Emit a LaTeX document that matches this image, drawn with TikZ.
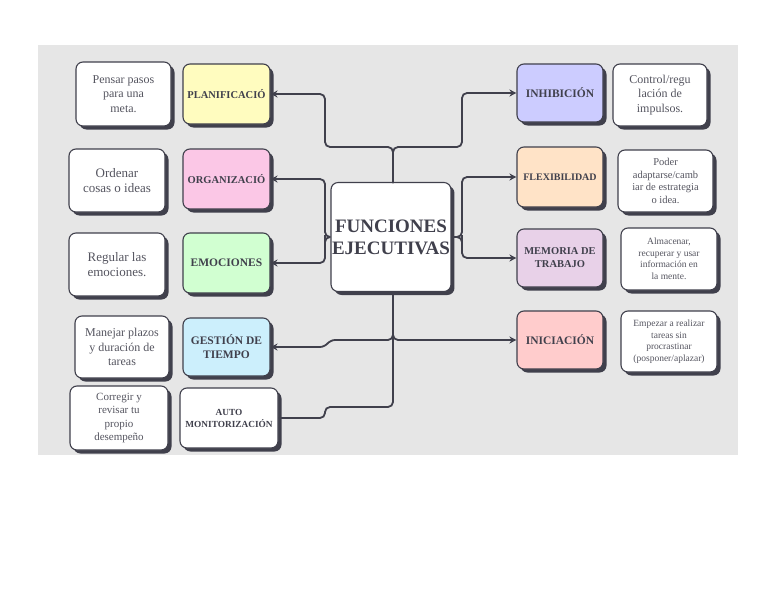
\documentclass[tikz,border=0pt]{standalone}
\usepackage{fontspec}
\setmainfont{Liberation Serif}
\usetikzlibrary{arrows.meta,shadows}
\definecolor{bgc}{HTML}{E6E6E6}
\definecolor{ink}{HTML}{40404C}
\definecolor{txt}{HTML}{555560}
\tikzset{
  card/.style={draw=ink,line width=1.1pt,rounded corners=7pt,align=center,inner sep=1pt,
    drop shadow={shadow xshift=3.5pt,shadow yshift=-3.5pt,fill=ink,opacity=1}},
  kbox/.style={card,font=\bfseries\fontsize{11.5}{14}\selectfont,text=ink},
  dbox/.style={card,fill=white,font=\fontsize{12}{14.5}\selectfont,text=txt},
  link/.style={draw=ink,line width=1.8pt,rounded corners=5pt},
  arr/.style={link,-{Stealth[length=7pt,width=7pt]}}
}
\begin{document}
\begin{tikzpicture}[x=1pt,y=-1pt]
\useasboundingbox (0,0) rectangle (768,594);
\fill[bgc] (38,45) rectangle (738,455);
% center
\node[card,fill=white,minimum width=110,minimum height=109,font=\bfseries\fontsize{19}{22}\selectfont,text=ink] (c) at (391,237) {FUNCIONES\\EJECUTIVAS};
% left keys
\node[kbox,fill=yellow!25!white,minimum width=87,minimum height=60,font=\bfseries\fontsize{10.5}{13}\selectfont] (pl) at (226.5,94) {PLANIFICACIÓ};
\node[kbox,fill=magenta!22!white,minimum width=87,minimum height=60,font=\bfseries\fontsize{10.5}{13}\selectfont] (or) at (226.5,179) {ORGANIZACIÓ};
\node[kbox,fill=green!18!white,minimum width=87,minimum height=60] (em) at (226.5,263) {EMOCIONES};
\node[kbox,fill=cyan!20!white,minimum width=87,minimum height=58] (ge) at (226.5,347) {GESTIÓN DE\\TIEMPO};
\node[kbox,fill=white,minimum width=98,minimum height=60,font=\bfseries\fontsize{9.3}{12}\selectfont] (au) at (229,418) {AUTO\\MONITORIZACIÓN};
% left descriptions
\node[dbox,minimum width=95,minimum height=64] (d1) at (123.5,94) {Pensar pasos\\para una\\meta.};
\node[dbox,minimum width=96,minimum height=63,font=\fontsize{13}{15.5}\selectfont] (d2) at (117,180.5) {Ordenar\\cosas o ideas};
\node[dbox,minimum width=96,minimum height=63,font=\fontsize{13}{15.5}\selectfont] (d3) at (117,264.5) {Regular las\\emociones.};
\node[dbox,minimum width=94,minimum height=62] (d4) at (122,347) {Manejar plazos\\y duración de\\tareas};
\node[dbox,minimum width=98,minimum height=64,font=\fontsize{11}{13.5}\selectfont] (d5) at (119,418) {Corregir y\\revisar tu\\propio\\desempeño};
% right keys
\node[kbox,fill=blue!20!white,minimum width=86,minimum height=58] (in) at (560,93) {INHIBICIÓN};
\node[kbox,fill=orange!22!white,minimum width=86,minimum height=60,font=\bfseries\fontsize{10}{12}\selectfont] (fl) at (560,177) {FLEXIBILIDAD};
\node[kbox,fill=violet!18!white,minimum width=86,minimum height=58,font=\bfseries\fontsize{10.5}{13}\selectfont] (me) at (560,258) {MEMORIA DE\\TRABAJO};
\node[kbox,fill=red!20!white,minimum width=86,minimum height=58] (ic) at (560,340) {INICIACIÓN};
% right descriptions
\node[dbox,minimum width=94,minimum height=62] (e1) at (660,95) {Control/regu\\lación de\\impulsos.};
\node[dbox,minimum width=95,minimum height=62,font=\fontsize{10.5}{12.5}\selectfont] (e2) at (665.5,181) {Poder\\adaptarse/camb\\iar de estrategia\\o idea.};
\node[dbox,minimum width=96,minimum height=62,font=\fontsize{9.5}{11.5}\selectfont] (e3) at (669,259) {Almacenar,\\recuperar y usar\\información en\\la mente.};
\node[dbox,minimum width=96,minimum height=61,font=\fontsize{9.5}{11.5}\selectfont] (e4) at (669,341.5) {Empezar a realizar\\tareas sin\\procrastinar\\(posponer/aplazar)};
% connectors
\coordinate (ct) at (393,183);
\coordinate (cb) at (393,292);
\draw[arr] (ct) -- (393,147) -| (325,120) |- (pl.east);
\draw[arr] (ct) -- (393,147) -| (462,120) |- (in.west);
\draw[arr] (c.west) -| (325,210) |- (or.east);
\draw[arr] (c.west) -| (325,240) |- (em.east);
\draw[arr] (c.east) -| (462,210) |- (fl.west);
\draw[arr] (c.east) -| (462,240) |- (me.west);
\draw[arr] (cb) -- (393,340) -- (330,340) -- (325,347) -- (ge.east);
\draw[arr] (cb) -- (393,340) -- (462,340) -- (ic.west);
\draw[link] (cb) -- (393,407) -| (325,418) -- (au.east);
\end{tikzpicture}
\end{document}
